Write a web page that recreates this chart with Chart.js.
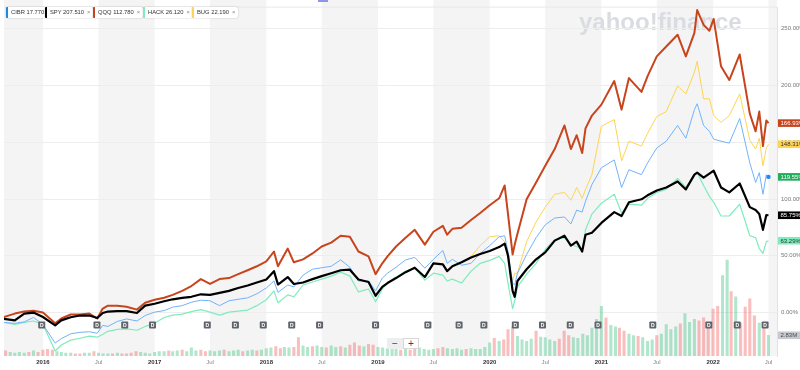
<!doctype html>
<html lang="en">
<head>
<meta charset="UTF-8">
<title>CIBR vs SPY, QQQ, HACK, BUG</title>
<style>
  body { margin: 0; background: #fff; }
  #wrap { position: relative; width: 800px; height: 370px; overflow: hidden; font-family: "Liberation Sans", Arial, sans-serif; }
  canvas { position: absolute; left: 0; top: 0; }
  .leg { position: absolute; top: 7px; height: 11px; line-height: 11px; font-size: 5.8px; color: #333; background: #fff;
         border-radius: 2px; box-shadow: 0 0 1.5px rgba(0,0,0,.3); padding: 0 3px 0 5px; white-space: nowrap; }
  .leg b { position: absolute; left: 0; top: 0; bottom: 0; width: 2px; border-radius: 1px 0 0 1px; }
  .leg span { color: #888; margin-left: 3px; }
  .ctl { position: absolute; top: 338px; width: 16px; height: 11px; line-height: 11px; text-align: center; font-size: 10px; color: #444; box-sizing: border-box; }
</style>
</head>
<body>
<div id="wrap">
  <canvas id="chart" width="800" height="370"></canvas>

  <div class="leg" style="left:6px"><b style="background:#1e88e5"></b>CIBR 17.770</div>
  <div class="leg" style="left:45px"><b style="background:#000"></b>SPY 207.510<span>&times;</span></div>
  <div class="leg" style="left:93px"><b style="background:#c8441c"></b>QQQ 112.780<span>&times;</span></div>
  <div class="leg" style="left:143px"><b style="background:#7eecbc"></b>HACK 26.120<span>&times;</span></div>
  <div class="leg" style="left:192px"><b style="background:#ffd452"></b>BUG 22.190<span>&times;</span></div>

  <div style="position:absolute; left:318px; top:0; width:10px; height:2px; background:#8f93ee"></div>
  <div class="ctl" style="left:387px; background:#eceef0">&minus;</div>
  <div class="ctl" style="left:403px; background:#fff; border:1px solid #d8d8d8; line-height:9px">+</div>
</div>

<script src="https://cdn.jsdelivr.net/npm/chart.js@4.4.0/dist/chart.umd.min.js"></script>
<script>
  // sample dates (month starts, plus a few turning points)
  var dates = [
    '2015-08-26','2015-10-01','2015-11-01','2015-12-01',
    '2016-01-01','2016-02-10','2016-03-01','2016-04-01','2016-05-01','2016-06-01','2016-06-27','2016-07-15','2016-08-01','2016-09-01','2016-10-01','2016-11-04','2016-12-01',
    '2017-01-01','2017-02-01','2017-03-01','2017-04-01','2017-05-01','2017-06-01','2017-07-01','2017-08-01','2017-09-01','2017-10-01','2017-11-01','2017-12-01',
    '2018-01-01','2018-01-26','2018-02-08','2018-03-12','2018-04-01','2018-05-01','2018-06-01','2018-07-01','2018-08-01','2018-09-01','2018-10-01','2018-10-29','2018-12-01','2018-12-24',
    '2019-01-15','2019-02-01','2019-03-01','2019-04-01','2019-05-01','2019-06-03','2019-07-01','2019-08-01','2019-08-15','2019-09-01','2019-10-01','2019-11-01','2019-12-01',
    '2020-01-01','2020-02-01','2020-02-19','2020-03-01','2020-03-16','2020-03-23','2020-04-01','2020-05-01','2020-06-01','2020-07-01','2020-08-01','2020-09-02','2020-09-23','2020-10-12','2020-10-30','2020-11-10','2020-12-01',
    '2021-01-01','2021-02-12','2021-03-08','2021-04-01','2021-05-12','2021-06-01','2021-07-01','2021-08-01','2021-09-07','2021-10-04','2021-11-01','2021-11-10','2021-12-01','2021-12-20',
    '2022-01-03','2022-01-27','2022-02-23','2022-03-29','2022-05-01','2022-05-20','2022-06-01','2022-06-13','2022-06-24','2022-07-01'
  ];

  // % change since the start
  var qqq = [
    -4, -0.9, 0.9, 1.7,
    0, -9.5, -5.2, -1.7, -1.7, -0.9, -5.2, 3.5, 6.1, 6.1, 5.2, 2.6, 8.7,
    11.3, 13, 15.6, 19.1, 23.4, 29.5, 25.2, 29.5, 30.4, 33.9, 37.3, 40.8,
    45.1, 53.8, 40.8, 56.4, 44.3, 46.9, 52.1, 58.2, 61.6, 67.7, 66.8, 53.8, 49.5, 33.9,
    43.4, 49.5, 58.2, 66, 72.9, 59.9, 71.2, 76.4, 68.6, 73.8, 74.7, 81.6, 87.7,
    94.6, 100.7, 112, 86.8, 51.2, 59.9, 69.4, 99.8, 114.6, 129.3, 144.1, 164.9, 144.1, 156.3, 140.6, 162.3, 173.6,
    183.2, 204, 178.8, 206.6, 194.4, 208.3, 225.7, 234.4, 244.8, 225.7, 246.5, 266.5, 253.5, 248.3,
    258.7, 217, 204.9, 227.4, 175.3, 159.7, 177.1, 146.7, 169.3, 166.93
  ];
  var spy = [
    -5.6, -6.9, -0.9, 0,
    -3.9, -11.3, -6.9, -4.1, -2.6, -2.6, -4.8, -0.4, 0.9, 1.3, 1.3, -0.4, 6.1,
    7.8, 10, 11.7, 13, 13.9, 16.1, 15.6, 17.4, 19.1, 21.7, 23.9, 26.5,
    29.1, 36.5, 24.7, 31.3, 25.2, 26.5, 29.5, 32.1, 34.7, 37.3, 37.8, 29.1, 26.9, 14.8,
    22.6, 26, 30.4, 35.6, 39.5, 31.3, 43.4, 42.5, 36.5, 40.8, 44.3, 48.6, 51.6,
    54.3, 57.7, 60.8, 50.3, 19.1, 13.9, 27.8, 38.2, 46.9, 53, 63.4, 67.7, 59, 62.5, 53.8, 68.6, 70.3,
    79, 88.5, 85.1, 97.2, 99.8, 103.3, 107.6, 110.2, 115.5, 108.5, 121.5, 123.3, 118.9, 122.4,
    125, 110.2, 105.9, 113.7, 92.9, 90.3, 86.8, 72.9, 85.9, 85.75
  ];
  var cibr = [
    -8.7, -9.5, -8.2, -4.3,
    -10.4, -26.9, -23, -18.7, -17.4, -16.9, -18.2, -11.3, -12.2, -7.8, -5.6, -7.4, -2.6,
    0.4, 1.7, 4.8, 6.1, 9.1, 10.9, 10.4, 6.1, 10.4, 11.7, 13, 16.5,
    21.7, 27.8, 17.8, 24.3, 22.6, 33, 38.2, 39.5, 40.8, 46.4, 39.9, 27.8, 27.8, 19.1,
    30.4, 34.7, 39.9, 46.4, 48.6, 39.1, 46.9, 54.7, 43.4, 46.9, 41.7, 43.4, 52.1,
    59, 66.8, 67.7, 53.8, 26, 24.3, 34.7, 51.2, 66, 77.3, 83.3, 84.2, 78.1, 90.3, 88.5, 98.1, 112.8,
    127.6, 134.5, 110.2, 125.9, 121.5, 131.9, 145, 151, 164.9, 153.6, 178.8, 184, 164.9, 159.7,
    152.8, 151, 149.3, 171, 131.9, 114.6, 123.3, 104.2, 121.5, 119.55
  ];
  var hack = [
    -8.7, -10.4, -8.7, -7.4,
    -10.4, -33.9, -28.6, -24.3, -22.6, -20.8, -21.7, -19.1, -16.5, -14.8, -14.3, -15.6, -12.2,
    -9.5, -4.3, -2.2, -1.3, 0.9, 2.6, 0.4, -2.2, 0.4, 1.3, 2.2, 6.1,
    11.3, 19.1, 8.7, 15.6, 13.9, 24.3, 26.9, 29.5, 32.1, 35.6, 32.1, 18.2, 20.8, 9.5,
    20.8, 26, 31.3, 36.5, 39.1, 28.6, 34.7, 33, 27.8, 29.5, 26, 36.5, 43.4,
    46, 49.5, 43.4, 26, 3.5, 10.4, 22.6, 33.9, 43.4, 55.6, 64.2, 66, 60, 58.2, 55.6, 72.9, 86.8,
    96.4, 104.2, 87.7, 95.5, 94.6, 100.7, 105.9, 108.5, 118.1, 110.2, 121.5, 123.3, 112, 102.4,
    97.2, 85.1, 85.1, 95.5, 67.7, 66, 56.4, 52.1, 62.5, 63.29
  ];
  // BUG only exists from Nov 2019 (index into dates)
  var bugStart = 54;
  var bug = [
    49.5, 59,
    66.8, 67.7, 62.5, 46.9, 27.8, 34.7, 34.7, 62.5, 79.9, 92.9, 104.2, 105.9, 99, 110.2, 100.7, 108.5, 121.5,
    164.1, 170.1, 133.7, 151, 146.7, 158, 172.7, 177.1, 199.7, 192.7, 211.8, 221.4, 188.4, 188.4,
    173.6, 167.5, 173.6, 192.7, 151.9, 144.1, 153.6, 129.3, 145, 148.31
  ];

  // CIBR volume (millions), two bars a month from Sep 2015
  var volume = [
    0.7, 0.5, 0.4, 0.5, 0.4, 0.5, 0.7, 0.5,
    0.8, 0.9, 0.8, 0.6, 0.5, 0.4, 0.4, 0.3, 0.3, 0.4, 0.4, 0.6, 0.4, 0.3, 0.3, 0.3, 0.4, 0.3, 0.3, 0.4, 0.6, 0.5, 0.4, 0.3,
    0.5, 0.6, 0.6, 0.7, 0.6, 0.7, 0.8, 0.6, 1.1, 0.7, 0.8, 0.6, 0.7, 0.6, 0.7, 0.8, 0.6, 0.7, 0.8, 0.6, 0.7, 0.8, 0.7, 0.8,
    1.0, 1.1, 1.3, 1.0, 1.2, 1.1, 1.2, 2.5, 1.4, 1.2, 1.3, 1.4, 1.2, 1.1, 1.4, 1.2, 1.3, 1.1, 1.5, 1.8, 1.4, 1.3, 1.6, 1.5,
    1.2, 1.1, 1.0, 0.9, 1.0, 0.8, 0.9, 0.8, 1.0, 1.1, 0.9, 0.8, 0.9, 1.0, 1.2, 1.0, 0.9, 1.0, 0.8, 0.9, 1.0, 0.9, 0.9, 1.2,
    1.8, 2.4, 2.0, 2.2, 3.6, 4.0, 2.7, 2.2, 2.0, 2.3, 3.4, 2.6, 2.5, 2.2, 2.0, 2.3, 3.4, 2.8, 2.5, 2.4, 3.0, 2.8, 3.8, 5.0,
    6.8, 5.2, 4.2, 4.0, 3.8, 3.4, 3.0, 2.8, 2.7, 2.5, 2.0, 2.2, 2.8, 3.0, 4.3, 3.6, 4.0, 4.4, 5.8, 4.6, 5.0, 4.8, 5.2, 4.5,
    6.4, 6.8, 11.0, 13.1, 8.8, 8.1, 4.5, 6.7, 7.8, 5.5, 4.5, 4.2, 2.83
  ];
  // u = up bar, d = down bar (grouped by month)
  var volDir = 'du uu ud ud ' +
    'dd du uu ud du ud uu ud ud dd du uu ' +
    'uu ud uu du uu dd uu ud uu ud uu du ' +
    'uu dd uu dd uu du ud uu du dd du dd ' +
    'uu uu ud ud du uu ud du uu ud uu uu ' +
    'ud ud dd uu uu du uu ud dd uu uu uu ' +
    'ud uu dd uu du uu du uu ud uu ud dd ' +
    'dd uu du dd dd ud u';

  var dividendDates = ['2015-12-28','2016-06-26','2016-09-25','2016-12-25','2017-06-22','2017-09-22','2017-12-22',
    '2018-03-25','2018-06-24','2018-12-24','2019-06-13','2019-09-23','2019-12-13','2020-03-25','2020-06-22',
    '2020-09-21','2020-12-21','2021-06-18','2021-12-18','2022-03-21','2022-06-20'];

  var xTickDates = ['2016-01-01','2016-07-01','2017-01-01','2017-07-01','2018-01-01','2018-07-01','2019-01-01',
    '2019-07-01','2020-01-01','2020-07-01','2021-01-01','2021-07-01','2022-01-01','2022-07-01'];
  var xTickLabels = ['2016','Jul','2017','Jul','2018','Jul','2019','Jul','2020','Jul','2021','Jul','2022','Jul'];
  var yTicks = [0, 50, 100, 150, 200, 250];

  function yearFrac(s) {
    var p = s.split('-').map(Number);
    var start = Date.UTC(p[0], 0, 1), end = Date.UTC(p[0] + 1, 0, 1);
    return p[0] + (Date.UTC(p[0], p[1] - 1, p[2] || 1) - start) / (end - start);
  }
  function series(vals, start) {
    start = start || 0;
    return vals.map(function (v, i) { return { x: yearFrac(dates[start + i]), y: v }; });
  }

  var dirs = volDir.replace(/ /g, '');
  var volPoints = volume.map(function (v, i) {
    var m = 8 + Math.floor(i / 2);
    var yr = 2015 + Math.floor(m / 12);
    var mm = m % 12 + 1;
    return { x: yearFrac(yr + '-' + (mm < 10 ? '0' : '') + mm + '-' + (i % 2 ? '16' : '01')), y: v };
  });
  var volColors = volume.map(function (v, i) {
    return dirs[i] === 'u' ? 'rgba(80,200,140,0.45)' : 'rgba(245,110,110,0.45)';
  });

  var badges = [
    { vals: qqq, bg: '#c8441c', fg: '#fff' },
    { vals: bug, bg: '#ffd452', fg: '#333' },
    { vals: cibr, bg: '#20ad5c', fg: '#fff' },
    { vals: spy, bg: '#000', fg: '#fff' },
    { vals: hack, bg: '#7eecbc', fg: '#333' }
  ];

  var FONT = '"Liberation Sans", Arial, sans-serif';
  Chart.defaults.font.family = FONT;

  var yahooLook = {
    id: 'yahooLook',
    beforeDraw: function (chart) {
      var ctx = chart.ctx, a = chart.chartArea, xs = chart.scales.x;
      ctx.save();
      // second half of every year is shaded
      ctx.fillStyle = '#f4f4f4';
      for (var y = 2015; y <= 2022; y++) {
        var l = Math.max(a.left, xs.getPixelForValue(yearFrac(y + '-07-01')));
        var r = Math.min(a.right, xs.getPixelForValue(y + 1));
        if (r > l) ctx.fillRect(l, 0, r - l, a.bottom);
      }
      ctx.fillStyle = '#e8e8e8';
      ctx.fillRect(a.left, a.top - 1, a.right - a.left, 1);
      ctx.font = 'bold 24px ' + FONT;
      ctx.fillStyle = '#d9dde2';
      ctx.fillText('yahoo!finance', 579, 30);
      ctx.restore();
    },
    afterDatasetsDraw: function (chart) {
      var ctx = chart.ctx, a = chart.chartArea, xs = chart.scales.x;
      ctx.save();
      ctx.font = 'bold 5px ' + FONT;
      ctx.textAlign = 'center';
      ctx.textBaseline = 'middle';
      dividendDates.forEach(function (d) {
        var px = xs.getPixelForValue(yearFrac(d)), py = a.bottom - 31;
        ctx.fillStyle = '#5f646b';
        ctx.beginPath();
        ctx.roundRect(px - 3.5, py - 3.5, 7, 7, 1);
        ctx.fill();
        ctx.fillStyle = '#fff';
        ctx.fillText('D', px, py + 0.3);
      });
      ctx.restore();
    },
    afterDraw: function (chart) {
      var ctx = chart.ctx, a = chart.chartArea, ys = chart.scales.y, yv = chart.scales.yv;
      ctx.save();
      ctx.font = '6px ' + FONT;
      ctx.textBaseline = 'middle';
      function tag(py, text, bg, fg) {
        ctx.fillStyle = bg;
        ctx.fillRect(a.right + 1, py - 3.8, chart.width - a.right - 1, 7.6);
        ctx.fillStyle = fg;
        ctx.fillText(text, a.right + 3.5, py + 0.3);
      }
      badges.forEach(function (b) {
        var v = b.vals[b.vals.length - 1];
        tag(ys.getPixelForValue(v), v.toFixed(2) + '%', b.bg, b.fg);
      });
      var lastVol = volume[volume.length - 1];
      tag(yv.getPixelForValue(lastVol), lastVol.toFixed(2) + 'M', '#c6cad0', '#4a4a4a');
      ctx.restore();
    }
  };

  new Chart(document.getElementById('chart'), {
    type: 'line',
    data: {
      datasets: [
        { label: 'SPY', data: series(spy), borderColor: '#000', borderWidth: 2.2, order: 0 },
        { label: 'QQQ', data: series(qqq), borderColor: '#c8441c', borderWidth: 2, order: 1 },
        { label: 'CIBR', data: series(cibr), borderColor: '#72b2fb', borderWidth: 1, order: 2,
          pointRadius: function (c) { return c.dataIndex === cibr.length - 1 ? 2.2 : 0; },
          pointBackgroundColor: '#1e88ff', pointBorderWidth: 0 },
        { label: 'BUG', data: series(bug, bugStart), borderColor: '#ffd452', borderWidth: 1, order: 3 },
        { label: 'HACK', data: series(hack), borderColor: '#7eecbc', borderWidth: 1.2, order: 4 },
        { type: 'bar', label: 'Volume', yAxisID: 'yv', data: volPoints, backgroundColor: volColors,
          barThickness: 2.4, order: 10 }
      ]
    },
    options: {
      responsive: false,
      animation: false,
      layout: { padding: { left: 3, top: 3, right: 0, bottom: 0 } },
      elements: { point: { radius: 0 }, line: { tension: 0, borderJoinStyle: 'round' } },
      plugins: { legend: { display: false }, tooltip: { enabled: false } },
      scales: {
        x: {
          type: 'linear', min: 2015.6513, max: 2022.5723,
          offset: false,   // the bar dataset would otherwise pad the axis
          grid: { display: false, drawTicks: false, offset: false },
          border: { display: false },
          afterFit: function (s) { s.height = 14; },
          afterBuildTicks: function (s) {
            s.ticks = xTickDates.map(function (d) { return { value: yearFrac(d) }; });
          },
          ticks: {
            autoSkip: false, maxRotation: 0, padding: 3,
            callback: function (v, i) { return xTickLabels[i]; },
            font: function (c) { return { size: 6, weight: c.tick && c.tick.label !== 'Jul' ? 'bold' : 'normal' }; },
            color: function (c) { return c.tick && c.tick.label !== 'Jul' ? '#333' : '#888'; }
          }
        },
        y: {
          position: 'right', min: -38.26, max: 268.7,
          grid: { color: '#ededed', drawTicks: false },
          border: { display: true, color: '#e2e2e2' },
          afterFit: function (s) { s.width = 23; },
          afterBuildTicks: function (s) {
            s.ticks = yTicks.map(function (v) { return { value: v }; });
          },
          ticks: {
            padding: 4, color: '#777', font: { size: 6 },
            callback: function (v) { return v.toFixed(2) + '%'; }
          }
        },
        yv: { display: false, min: 0, max: 47.6 }
      }
    },
    plugins: [yahooLook]
  });
</script>
</body>
</html>
